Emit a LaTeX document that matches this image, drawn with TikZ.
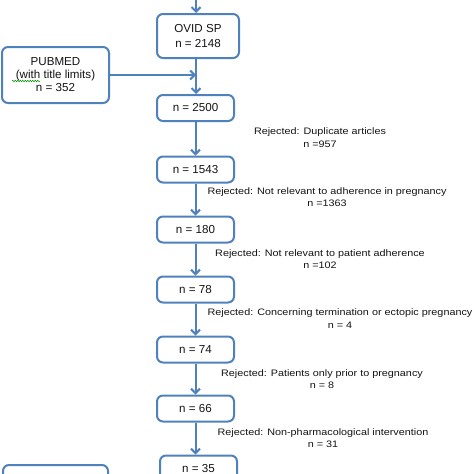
\documentclass[tikz,border=0pt]{standalone}
\usepackage{fontspec}
\setmainfont{Liberation Sans}
\newfontfamily\rejfont[FakeStretch=1.15]{Liberation Sans}
\usetikzlibrary{arrows.meta,decorations.pathmorphing}
\definecolor{boxblue}{RGB}{79,129,189}
\definecolor{textgrey}{RGB}{20,20,20}
\tikzset{
    box/.style={draw=boxblue, line width=2pt, rounded corners=6pt, fill=white,
        minimum width=77pt, minimum height=26pt, inner sep=2pt, align=center,
        text=textgrey, font=\fontsize{11.6}{14.5}\selectfont},
    rejtext/.style={align=center, text=textgrey, font=\rejfont\fontsize{9.4}{12.5}\selectfont},
    flow/.style={draw=boxblue, line width=2pt, -{Straight Barb[length=4.5pt,width=9pt]}}
}
\begin{document}
\begin{tikzpicture}[x=1pt, y=-1pt]
    \useasboundingbox (0,0) rectangle (474,474);

    % 数据库来源
    \coordinate (top) at (196,0);
    \node[box, minimum width=82pt, minimum height=44pt] (ovid) at (198,36) {OVID SP\\n = 2148};
    \node[box, minimum width=107pt, minimum height=56pt, font=\fontsize{11.6}{13}\selectfont]
        (pubmed) at (55.5,75) {PUBMED\\(with title limits)\\n = 352};
    \draw[green!60!black, line width=0.5pt, decorate,
        decoration={snake, amplitude=0.8pt, segment length=2.5pt}] (12,81) -- (40,81);

    % 筛选步骤
    \node[box] (n2500) at (195.5,108) {n = 2500};
    \node[box] (n1543) at (195.5,169.5) {n = 1543};
    \node[box] (n180) at (195.5,229.5) {n = 180};
    \node[box] (n78) at (195.5,289.5) {n = 78};
    \node[box] (n74) at (195.5,349.5) {n = 74};
    \node[box] (n66) at (195.5,408.5) {n = 66};
    \node[box] (n35) at (198.5,468.5) {n = 35};
    \node[box, minimum width=105pt, minimum height=56pt] (extra) at (55.5,493) {};

    % 连线
    \coordinate (join) at (top |- pubmed.east);
    \draw[flow] (top) -- (top |- ovid.north);
    \draw[flow] (top |- ovid.south) -- (top |- n2500.north);
    \draw[flow] (pubmed.east) -- (join);
    \draw[flow] (n2500) -- (n1543);
    \draw[flow] (n1543) -- (n180);
    \draw[flow] (n180) -- (n78);
    \draw[flow] (n78) -- (n74);
    \draw[flow] (n74) -- (n66);
    \draw[flow] (n66.south) -- (n66.south |- n35.north);

    % 排除说明
    \node[rejtext] (rej1) at (320,137.5) {Rejected: Duplicate articles\\n =957};
    \node[rejtext] (rej2) at (327,197) {Rejected: Not relevant to adherence in pregnancy\\n =1363};
    \node[rejtext] (rej3) at (320,259) {Rejected: Not relevant to patient adherence\\n =102};
    \node[rejtext] (rej4) at (340,318.5) {Rejected: Concerning termination or ectopic pregnancy\\n = 4};
    \node[rejtext] (rej5) at (322,379) {Rejected: Patients only prior to pregnancy\\n = 8};
    \node[rejtext] (rej6) at (323,438) {Rejected: Non-pharmacological intervention\\n = 31};
\end{tikzpicture}
\end{document}
